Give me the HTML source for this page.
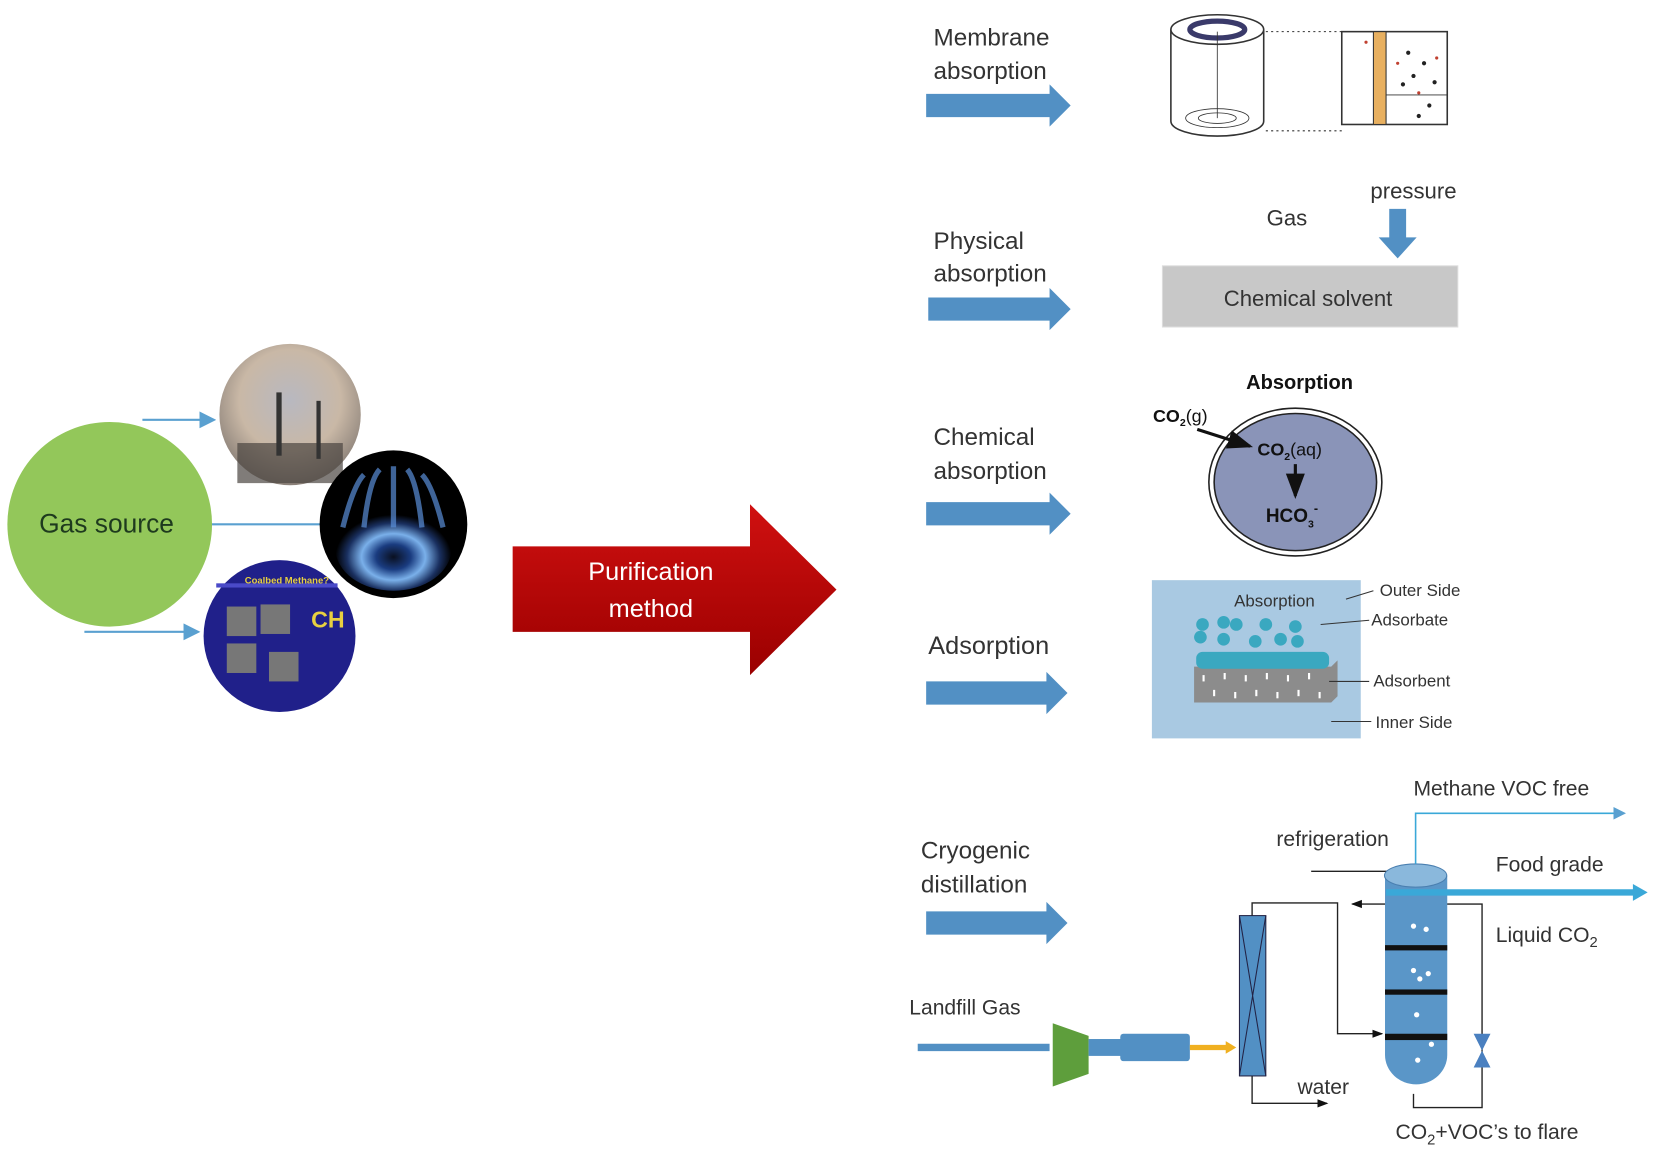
<!DOCTYPE html>
<html><head><meta charset="utf-8"><style>
html,body{margin:0;padding:0;background:#fff;}
svg{display:block;}
text{font-family:"Liberation Sans",sans-serif;}
</style></head><body>
<svg width="1654" height="1154" viewBox="0 0 1568 1094" preserveAspectRatio="none" xmlns="http://www.w3.org/2000/svg">
<defs>
<marker id="ab" markerWidth="8" markerHeight="8" refX="7" refY="4" orient="auto"><path d="M0,0 L8,4 L0,8 z" fill="#5aa0d0"/></marker>
<marker id="ak" markerWidth="8" markerHeight="8" refX="7" refY="4" orient="auto"><path d="M0,1 L8,4 L0,7 z" fill="#111"/></marker>
<linearGradient id="red" x1="0" y1="0" x2="0" y2="1"><stop offset="0" stop-color="#d01010"/><stop offset="1" stop-color="#9a0000"/></linearGradient>
<radialGradient id="flame" cx="0.5" cy="0.6" r="0.5"><stop offset="0" stop-color="#0a1020"/><stop offset="0.3" stop-color="#1a3c80"/><stop offset="0.55" stop-color="#7ab0ea"/><stop offset="0.8" stop-color="#1a3060"/><stop offset="1" stop-color="#000"/></radialGradient>
<radialGradient id="smoke" cx="0.5" cy="0.4" r="0.6"><stop offset="0" stop-color="#b8b8c0"/><stop offset="0.6" stop-color="#c9b8a6"/><stop offset="1" stop-color="#8a8078"/></radialGradient>
</defs>
<rect width="1568" height="1094" fill="#fff"/>

<!-- Gas source -->
<line x1="135" y1="398" x2="203" y2="398" stroke="#5aa0d0" stroke-width="2" marker-end="url(#ab)"/>
<line x1="80" y1="599" x2="188" y2="599" stroke="#5aa0d0" stroke-width="2" marker-end="url(#ab)"/>
<circle cx="104" cy="497" r="97" fill="#93c75a"/>
<line x1="201" y1="497" x2="305" y2="497" stroke="#5aa0d0" stroke-width="2"/>
<text x="101" y="505" font-size="25" fill="#1e3a1e" text-anchor="middle">Gas source</text>
<circle cx="275" cy="393" r="67" fill="url(#smoke)"/>
<rect x="225" y="420" width="100" height="38" fill="#4a4540" opacity="0.7"/>
<rect x="262" y="372" width="5" height="60" fill="#333"/><rect x="300" y="380" width="4" height="55" fill="#333"/>
<circle cx="373" cy="497" r="70" fill="#000"/>
<ellipse cx="373" cy="520" rx="55" ry="40" fill="url(#flame)"/>
<path d="M325,500 Q335,460 345,450 M345,500 Q350,455 360,445 M373,500 L373,442 M400,500 Q395,455 386,445 M420,500 Q410,460 400,450" stroke="#5a8ed8" stroke-width="5" fill="none" opacity="0.7"/>
<circle cx="265" cy="603" r="72" fill="#20208a"/>
<rect x="205" y="553" width="115" height="4" fill="#4a4ac8"/>
<text x="232" y="553" font-size="9" fill="#e8d040" font-weight="bold">Coalbed Methane?</text>
<rect x="215" y="575" width="28" height="28" fill="#777"/><rect x="247" y="573" width="28" height="28" fill="#777"/>
<rect x="215" y="610" width="28" height="28" fill="#777"/><rect x="255" y="618" width="28" height="28" fill="#777"/>
<text x="295" y="595" font-size="22" fill="#e8d040" font-family="Liberation Serif" font-weight="bold">CH</text>

<!-- Red arrow -->
<path d="M486,518 L711,518 L711,478 L793,559 L711,640 L711,599 L486,599 Z" fill="url(#red)"/>
<text x="617" y="550" font-size="24" fill="#fff" text-anchor="middle">Purification</text>
<text x="617" y="585" font-size="24" fill="#fff" text-anchor="middle">method</text>

<!-- blue arrows -->
<g fill="#5290c4">
<path d="M878,89 L995,89 L995,80 L1015,100 L995,120 L995,111 L878,111Z"/>
<path d="M880,282 L995,282 L995,273 L1015,293 L995,313 L995,304 L880,304Z"/>
<path d="M878,476 L995,476 L995,467 L1015,487 L995,507 L995,498 L878,498Z"/>
<path d="M878,646 L992,646 L992,637 L1012,657 L992,677 L992,668 L878,668Z"/>
<path d="M878,864 L992,864 L992,855 L1012,875 L992,895 L992,886 L878,886Z"/>
</g>
<g font-size="23" fill="#333">
<text x="885" y="43">Membrane</text><text x="885" y="75">absorption</text>
<text x="885" y="236">Physical</text><text x="885" y="267">absorption</text>
<text x="885" y="422">Chemical</text><text x="885" y="454">absorption</text>
<text x="880" y="620" font-size="24">Adsorption</text>
<text x="873" y="814">Cryogenic</text><text x="873" y="846">distillation</text>
<text x="862" y="962" font-size="20">Landfill Gas</text>
</g>

<!-- membrane diagram -->
<g stroke="#333" fill="none" stroke-width="1.5">
<path d="M1110,28 L1110,115 A44,14 0 0 0 1198,115 L1198,28"/>
<ellipse cx="1154" cy="28" rx="44" ry="14" fill="#fff"/>
<ellipse cx="1154" cy="28" rx="26" ry="8" stroke="#3a3a6a" stroke-width="5"/>
<ellipse cx="1154" cy="112" rx="30" ry="9" stroke-width="0.8"/>
<ellipse cx="1154" cy="112" rx="18" ry="5" stroke-width="0.8"/>
<line x1="1154" y1="30" x2="1154" y2="112" stroke-width="0.8"/>
<rect x="1272" y="30" width="100" height="88"/>
<line x1="1200" y1="30" x2="1272" y2="30" stroke-dasharray="2,3" stroke-width="1"/>
<line x1="1200" y1="124" x2="1272" y2="124" stroke-dasharray="2,3" stroke-width="1"/>
<line x1="1314" y1="90" x2="1372" y2="90" stroke-width="0.8"/>
</g>
<rect x="1302" y="30" width="12" height="88" fill="#e8b060" stroke="#333"/>
<g fill="#222"><circle cx="1335" cy="50" r="2"/><circle cx="1350" cy="60" r="2"/><circle cx="1340" cy="72" r="2"/><circle cx="1360" cy="78" r="2"/><circle cx="1330" cy="80" r="2"/><circle cx="1355" cy="100" r="2"/><circle cx="1345" cy="110" r="2"/></g>
<g fill="#c04030"><circle cx="1325" cy="60" r="1.5"/><circle cx="1362" cy="55" r="1.5"/><circle cx="1345" cy="88" r="1.5"/><circle cx="1295" cy="40" r="1.5"/></g>

<!-- physical -->
<text x="1220" y="214" font-size="21" fill="#333" text-anchor="middle">Gas</text>
<text x="1340" y="188" font-size="21" fill="#333" text-anchor="middle">pressure</text>
<path d="M1317,198 L1333,198 L1333,225 L1343,225 L1325,245 L1307,225 L1317,225Z" fill="#5290c4"/>
<rect x="1102" y="252" width="280" height="58" fill="#c8c8c8" stroke="#ddd"/>
<text x="1240" y="290" font-size="21" fill="#333" text-anchor="middle">Chemical solvent</text>

<!-- chemical -->
<text x="1232" y="369" font-size="19" font-weight="bold" fill="#111" text-anchor="middle">Absorption</text>
<ellipse cx="1228" cy="457" rx="82" ry="70" fill="#fff" stroke="#222" stroke-width="1.5"/>
<ellipse cx="1228" cy="457" rx="77" ry="65" fill="#8a94b8" stroke="#222" stroke-width="1.5"/>
<text x="1093" y="400" font-size="17" font-weight="bold" fill="#111">CO<tspan font-size="10" dy="4">2</tspan><tspan dy="-4" font-weight="normal">(g)</tspan></text>
<line x1="1135" y1="407" x2="1185" y2="423" stroke="#111" stroke-width="3" marker-end="url(#ak)"/>
<text x="1192" y="432" font-size="17" font-weight="bold" fill="#111">CO<tspan font-size="10" dy="4">2</tspan><tspan dy="-4" font-weight="normal">(aq)</tspan></text>
<line x1="1228" y1="440" x2="1228" y2="470" stroke="#111" stroke-width="3" marker-end="url(#ak)"/>
<text x="1200" y="495" font-size="18" font-weight="bold" fill="#111">HCO<tspan font-size="10" dy="5">3</tspan><tspan font-size="12" dy="-14">-</tspan></text>

<!-- adsorption -->
<rect x="1092" y="550" width="198" height="150" fill="#a9c9e2"/>
<text x="1170" y="575" font-size="16" fill="#333">Absorption</text>
<path d="M1132,632 L1262,632 L1268,626 L1268,660 L1262,666 L1132,666Z" fill="#8c8c8c"/>
<g fill="#fff"><rect x="1140" y="640" width="2" height="6"/><rect x="1160" y="638" width="2" height="6"/><rect x="1180" y="640" width="2" height="6"/><rect x="1200" y="638" width="2" height="6"/><rect x="1220" y="640" width="2" height="6"/><rect x="1240" y="638" width="2" height="6"/><rect x="1150" y="654" width="2" height="6"/><rect x="1170" y="656" width="2" height="6"/><rect x="1190" y="654" width="2" height="6"/><rect x="1210" y="656" width="2" height="6"/><rect x="1230" y="654" width="2" height="6"/><rect x="1250" y="656" width="2" height="6"/></g>
<g fill="#3aa8c0">
<circle cx="1140" cy="592" r="6"/><circle cx="1160" cy="590" r="6"/><circle cx="1172" cy="592" r="6"/><circle cx="1200" cy="592" r="6"/><circle cx="1228" cy="594" r="6"/>
<circle cx="1138" cy="604" r="6"/><circle cx="1160" cy="606" r="6"/><circle cx="1190" cy="608" r="6"/><circle cx="1214" cy="606" r="6"/><circle cx="1230" cy="608" r="6"/>
<rect x="1134" y="618" width="126" height="16" rx="6"/>
</g>
<g stroke="#333" stroke-width="1"><line x1="1276" y1="568" x2="1302" y2="560"/><line x1="1252" y1="592" x2="1298" y2="588"/><line x1="1260" y1="646" x2="1298" y2="646"/><line x1="1262" y1="684" x2="1300" y2="684"/></g>
<g font-size="16" fill="#333"><text x="1308" y="565">Outer Side</text><text x="1300" y="593">Adsorbate</text><text x="1302" y="651">Adsorbent</text><text x="1304" y="690">Inner Side</text></g>

<!-- cryogenic -->
<line x1="870" y1="993" x2="995" y2="993" stroke="#5290c4" stroke-width="7"/>
<path d="M998,970 L1032,982 L1032,1018 L998,1030Z" fill="#5e9e3c"/>
<rect x="1032" y="985" width="32" height="16" fill="#5290c4"/>
<rect x="1062" y="980" width="66" height="26" rx="3" fill="#5290c4"/>
<line x1="1128" y1="993" x2="1168" y2="993" stroke="#f0b020" stroke-width="5"/>
<path d="M1162,987 L1172,993 L1162,999Z" fill="#f0b020"/>
<rect x="1175" y="868" width="25" height="152" fill="#5290c4" stroke="#224" stroke-width="1"/>
<path d="M1175,868 L1200,1020 M1200,868 L1175,1020" stroke="#224" stroke-width="1"/>
<g fill="none" stroke="#222" stroke-width="1.3">
<path d="M1187,868 L1187,856 L1268,856 L1268,980 L1310,980" marker-end="url(#ak)"/>
<path d="M1187,1020 L1187,1046 L1258,1046" marker-end="url(#ak)"/>
<path d="M1243,826 L1368,826" marker-end="url(#ak)"/>
<path d="M1340,1037 L1340,1050 L1405,1050 L1405,857 L1282,857" marker-end="url(#ak)"/>
</g>
<path d="M1313,830 L1313,1000 A29.5,28 0 0 0 1372,1000 L1372,830Z" fill="#5a96c8"/>
<ellipse cx="1342" cy="830" rx="29.5" ry="11" fill="#8ab8dc" stroke="#4a7fb0"/>
<g fill="#111"><rect x="1313" y="896" width="59" height="5"/><rect x="1313" y="938" width="59" height="5"/><rect x="1313" y="980" width="59" height="6"/></g>
<g fill="#fff"><circle cx="1340" cy="878" r="2.5"/><circle cx="1352" cy="881" r="2.5"/><circle cx="1340" cy="920" r="2.5"/><circle cx="1354" cy="923" r="2.5"/><circle cx="1346" cy="928" r="2.5"/><circle cx="1343" cy="962" r="2.5"/><circle cx="1357" cy="990" r="2.5"/><circle cx="1344" cy="1005" r="2.5"/></g>
<path d="M1397,980 L1413,980 L1405,996 L1413,1012 L1397,1012 L1405,996Z" fill="#4a80c0"/>
<line x1="1314" y1="846" x2="1552" y2="846" stroke="#3aa8d8" stroke-width="6"/>
<path d="M1548,838 L1562,846 L1548,854Z" fill="#3aa8d8"/>
<path d="M1342,819 L1342,771 L1540,771" fill="none" stroke="#3aa8d8" stroke-width="1.5" marker-end="url(#ab)"/>
<g font-size="20" fill="#333">
<text x="1340" y="754">Methane VOC free</text>
<text x="1210" y="802">refrigeration</text>
<text x="1418" y="826">Food grade</text>
<text x="1418" y="893">Liquid CO<tspan font-size="14" dy="5">2</tspan></text>
<text x="1230" y="1037">water</text>
<text x="1323" y="1080">CO<tspan font-size="14" dy="5">2</tspan><tspan dy="-5">+VOC’s to flare</tspan></text>
</g>
</svg>
</body></html>
